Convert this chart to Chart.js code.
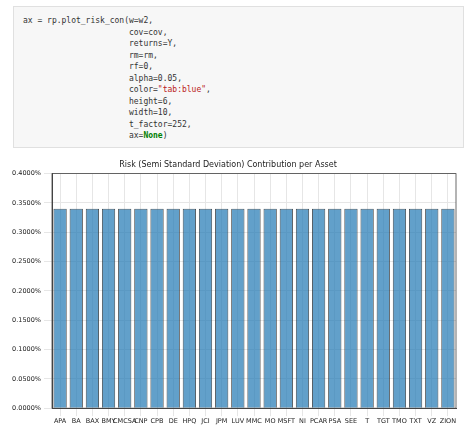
<!DOCTYPE html>
<html>
<head>
<meta charset="utf-8">
<script src="https://cdn.jsdelivr.net/npm/chart.js@4"></script>
<style>
  body { margin: 0; background: #fff; width: 474px; height: 428px; overflow: hidden; font-family: "DejaVu Sans", sans-serif; }
  pre {
    position: absolute; left: 13px; top: 6px; width: 440px; height: 132px;
    margin: 0; padding: 8px 0 0 9px; background: #f7f7f7; border: 1px solid #e0e0e0;
    font-family: "DejaVu Sans Mono", monospace; font-size: 8px; line-height: 11.5px; color: #333;
  }
  .s { color: #ba2121; }
  .k { color: #008000; font-weight: bold; }
  #wrap { position: absolute; left: 0; top: 160px; width: 474px; height: 268px; }
</style>
</head>
<body>
<pre>ax = rp.plot_risk_con(w=w2,
                      cov=cov,
                      returns=Y,
                      rm=rm,
                      rf=0,
                      alpha=0.05,
                      color=<span class="s">"tab:blue"</span>,
                      height=6,
                      width=10,
                      t_factor=252,
                      ax=<span class="k">None</span>)</pre>
<div id="wrap"><canvas id="chart"></canvas></div>
<script>
// assets and their risk contribution (%)
const assets = ['APA', 'BA', 'BAX', 'BMY', 'CMCSA', 'CNP', 'CPB', 'DE', 'HPQ', 'JCI', 'JPM', 'LUV', 'MMC',
  'MO', 'MSFT', 'NI', 'PCAR', 'PSA', 'SEE', 'T', 'TGT', 'TMO', 'TXT', 'VZ', 'ZION'];
const riskContrib = [0.34, 0.34, 0.34, 0.34, 0.34, 0.34, 0.34, 0.34, 0.34, 0.34, 0.34, 0.34, 0.34,
  0.34, 0.34, 0.34, 0.34, 0.34, 0.34, 0.34, 0.34, 0.34, 0.34, 0.34, 0.34];

// matplotlib style frame around the plot area
const frame = {
  id: 'frame',
  afterDraw(chart) {
    const { ctx, chartArea: a } = chart;
    ctx.save();
    ctx.strokeStyle = '#444';
    ctx.lineWidth = 0.8;
    ctx.strokeRect(a.left, a.top, a.right - a.left, a.bottom - a.top);
    ctx.restore();
  },
};

const ctx = document.getElementById('chart').getContext('2d');
new Chart(ctx, {
  type: 'bar',
  data: {
    labels: assets,
    datasets: [{
      data: riskContrib,
      backgroundColor: 'rgba(31,119,180,0.7)',
      borderColor: '#333',
      borderWidth: 0.8,
      categoryPercentage: 1,
      barPercentage: 0.82,
    }],
  },
  plugins: [frame],
  options: {
    responsive: true,
    maintainAspectRatio: false,
    animation: false,
    layout: { padding: { left: 0, right: 18, top: 0, bottom: 2 } },
    plugins: {
      legend: { display: false },
      title: {
        display: true,
        text: 'Risk (Semi Standard Deviation) Contribution per Asset',
        color: '#222',
        font: { size: 8, family: 'DejaVu Sans', weight: 'normal' },
        padding: { top: 0, bottom: 4 },
      },
    },
    scales: {
      x: {
        grid: { color: '#e6e6e6', offset: false },
        border: { color: '#444' },
        ticks: { color: '#222', font: { size: 6.5, family: 'DejaVu Sans' }, maxRotation: 0, autoSkip: false, padding: 1 },
      },
      y: {
        min: 0,
        max: 0.4,
        afterFit: (axis) => { axis.width = 52; },
        grid: { color: '#e6e6e6' },
        border: { color: '#444' },
        ticks: {
          stepSize: 0.05,
          color: '#222',
          font: { size: 6.5, family: 'DejaVu Sans' },
          callback: (v) => v.toFixed(4) + '%',
        },
      },
    },
  },
});
</script>
</body>
</html>
